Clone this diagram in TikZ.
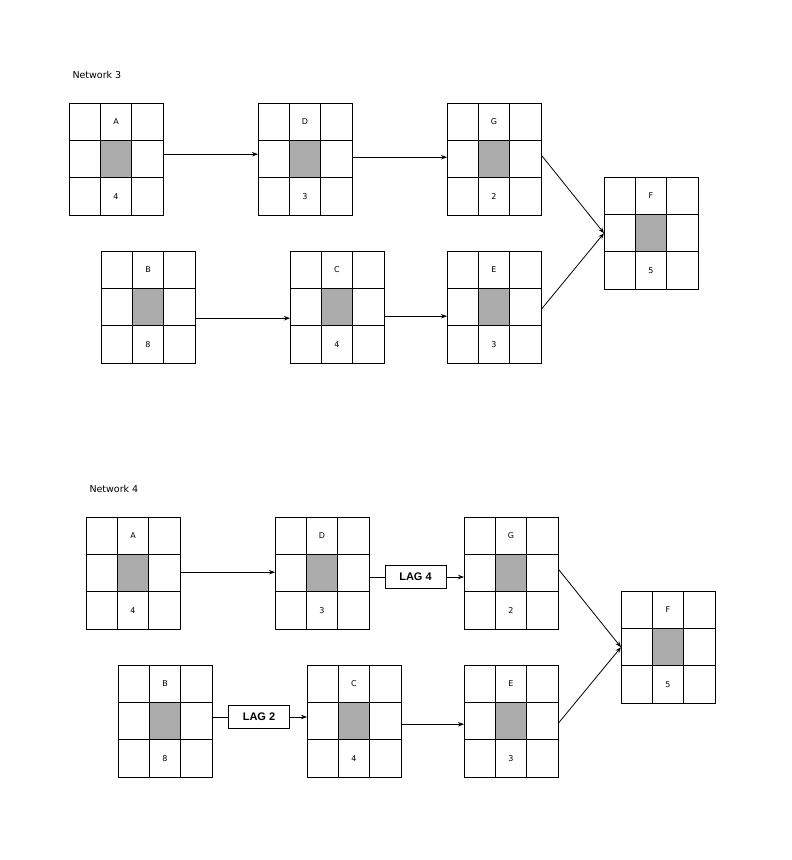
\documentclass[tikz,border=0pt]{standalone}
\usepackage{fontspec}
\setmainfont{DejaVu Sans}
\newfontfamily\lagfont{Liberation Sans}
\usetikzlibrary{arrows.meta}
\tikzset{
  x=1pt,y=-1pt,
  grid/.style={draw=black,line width=0.9pt},
  conn/.style={line width=0.8pt,-{Stealth[length=6pt,width=4.5pt]}},
  plainline/.style={line width=0.8pt},
  lagbox/.style={draw,line width=0.9pt,font=\lagfont\bfseries\fontsize{11}{13}\selectfont,inner sep=0pt,minimum width=61,minimum height=23},
  lbl/.style={font=\fontsize{8}{10}\selectfont},
  title/.style={font=\fontsize{9.5}{11}\selectfont,anchor=west}
}
\newcommand{\netbox}[5]{%
  \node[minimum width=94,minimum height=112,inner sep=0pt,anchor=north west] (#1) at (#2,#3) {};
  \fill[gray!80!black!55] (#2+31.33,#3+37.33) rectangle (#2+62.67,#3+74.67);
  \draw[grid] (#2,#3) rectangle (#2+94,#3+112);
  \draw[grid] (#2+31.33,#3) -- (#2+31.33,#3+112) (#2+62.67,#3) -- (#2+62.67,#3+112);
  \draw[grid] (#2,#3+37.33) -- (#2+94,#3+37.33) (#2,#3+74.67) -- (#2+94,#3+74.67);
  \node[lbl] (#1top) at (#2+47,#3+19) {#4};
  \node[lbl] (#1bot) at (#2+47,#3+93.5) {#5};
}
\begin{document}
\begin{tikzpicture}
\useasboundingbox (0,0) rectangle (792,860);
\node[title] (t3) at (69,75) {Network 3};
\netbox{A}{69}{103}{A}{4}
\netbox{D}{258}{103}{D}{3}
\netbox{G}{447}{103}{G}{2}
\netbox{F}{604}{177}{F}{5}
\netbox{B}{101}{251}{B}{8}
\netbox{C}{290}{251}{C}{4}
\netbox{E}{447}{251}{E}{3}
\draw[conn] ([yshift=5]A.east) -- ([yshift=5]D.west);
\draw[conn] ([yshift=2]D.east) -- ([yshift=2]G.west);
\draw[conn] ([yshift=4]G.east) -- (F.west);
\draw[conn] ([yshift=-2]E.east) -- (F.west);
\draw[conn] ([yshift=-11]B.east) -- ([yshift=-11]C.west);
\draw[conn] ([yshift=-9]C.east) -- ([yshift=-9]E.west);

\node[title] (t4) at (86,489) {Network 4};
\netbox{A4}{86}{517}{A}{4}
\netbox{D4}{275}{517}{D}{3}
\netbox{G4}{464}{517}{G}{2}
\netbox{F4}{621}{591}{F}{5}
\netbox{B4}{118}{665}{B}{8}
\netbox{C4}{307}{665}{C}{4}
\netbox{E4}{464}{665}{E}{3}
\node[lagbox] (L4) at (415.5,577) {LAG 4};
\node[lagbox] (L2) at (259,717) {LAG 2};
\draw[conn] ([yshift=1]A4.east) -- ([yshift=1]D4.west);
\draw[plainline] (D4.east |- L4) -- (L4.west);
\draw[conn] (L4.east) -- (L4.east -| G4.west);
\draw[conn] ([yshift=4]G4.east) -- (F4.west);
\draw[conn] ([yshift=-2]E4.east) -- (F4.west);
\draw[plainline] (B4.east |- L2) -- (L2.west);
\draw[conn] (L2.east) -- (L2.east -| C4.west);
\draw[conn] ([yshift=-3]C4.east) -- ([yshift=-3]E4.west);
\end{tikzpicture}
\end{document}
